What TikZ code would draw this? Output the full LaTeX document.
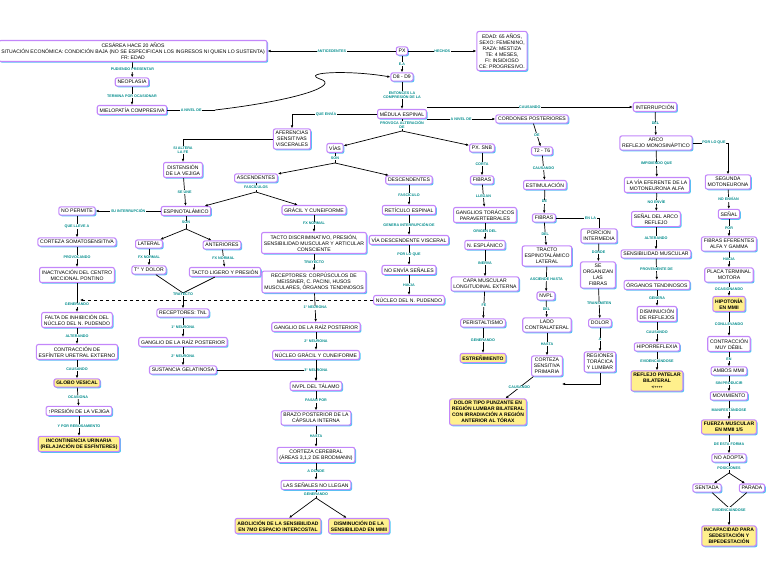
\documentclass[tikz,border=0pt]{standalone}
\usepackage{fontspec}
\setmainfont{Liberation Sans}
\usetikzlibrary{shadows,arrows.meta}
\definecolor{pur}{RGB}{195,135,250}
\definecolor{tl}{RGB}{0,140,140}
\definecolor{yl}{RGB}{255,240,140}
\tikzset{
 box/.style={draw=pur,line width=1.1pt,rounded corners=2pt,fill=white,align=center,
   font=\fontsize{5.1}{6}\selectfont,inner sep=2.3pt,
   drop shadow={shadow xshift=1.2pt,shadow yshift=-1.2pt,fill=cyan!70,opacity=1}},
 ybox/.style={box,fill=yl,font=\fontsize{5}{6}\selectfont\bfseries},
 lbl/.style={font=\fontsize{3.7}{4.3}\selectfont\bfseries,text=tl,fill=white,inner sep=0.6pt,align=center},
 arr/.style={-{Latex[length=3pt,width=2.6pt]},line width=0.7pt},
 ln/.style={line width=0.7pt}
}
\begin{document}
\begin{tikzpicture}[x=1pt,y=-1pt]
\useasboundingbox (0,0) rectangle (768,578);
% top
\node[box] (ant) at (133,51) {CESÁREA HACE 20 AÑOS\\SITUACIÓN ECONÓMICA: CONDICIÓN BAJA (NO SE ESPECIFICAN LOS INGRESOS NI QUIEN LO SUSTENTA)\\FR: EDAD};
\node[box] (px) at (402,51) {PX};
\node[box] (edad) at (502,51) {EDAD: 65 AÑOS,\\SEXO: FEMENINO,\\RAZA: MESTIZA\\TE: 4 MESES,\\FI: INSIDIOSO\\CE: PROGRESIVO.};
\node[box] (dd) at (402,77) {D8 - D9};
\node[box] (neo) at (132,82) {NEOPLASIA};
\node[box] (miel) at (132,110) {MIELOPATÍA COMPRESIVA};
\node[box] (med) at (402,114) {MÉDULA ESPINAL};
\node[box] (afe) at (292,139) {AFERENCIAS\\SENSITIVAS\\VISCERALES};
\node[box] (vias) at (335,148) {VÍAS};
\node[box] (snb) at (482,148) {PX. SNB};
\node[box] (cord) at (532,119) {CORDONES POSTERIORES};
\node[box] (int) at (655,107) {INTERRUPCIÓN};
\node[box] (arco) at (656,143) {ARCO\\REFLEJO MONOSINÁPTICO};
\node[box] (seg) at (728,182) {SEGUNDA\\MOTONEURONA};
\node[box] (t2) at (542,151) {T2 - T6};
\node[box] (est) at (545,185) {ESTIMULACIÓN};
\node[box] (fib2) at (544,218) {FIBRAS};
\node[box] (porc) at (599,236) {PORCION\\INTERMEDIA};
\node[box] (tra) at (547,256) {TRACTO\\ESPINOTALÁMICO\\LATERAL};
\node[box] (nvpl) at (546,296) {NVPL};
\node[box] (lado) at (547,325) {LADO\\CONTRALATERAL};
\node[box] (csen) at (547,366) {CORTEZA\\SENSITIVA\\PRIMARIA};
\node[box] (org) at (598,275) {SE\\ORGANIZAN\\LAS\\FIBRAS};
\node[box] (dol) at (600,323) {DOLOR};
\node[box] (reg) at (600,362) {REGIONES\\TORÁCICA\\Y LUMBAR};
\node[ybox] (dtipo) at (488,412) {DOLOR TIPO PUNZANTE EN\\REGIÓN LUMBAR BILATERAL\\CON IRRADIACIÓN A REGIÓN\\ANTERIOR AL TÓRAX};
\node[box] (vef) at (657,185) {LA VÍA EFERENTE DE LA\\MOTONEURONA ALFA};
\node[box] (sarc) at (656,219) {SEÑAL DEL ARCO\\REFLEJO};
\node[box] (smus) at (656,254) {SENSIBILIDAD MUSCULAR};
\node[box] (orgt) at (657,285) {ÓRGANOS TENDINOSOS};
\node[box] (dref) at (657,314) {DISMINUCIÓN\\DE REFLEJOS};
\node[box] (hipo) at (657,347) {HIPORREFLEXIA};
\node[ybox] (pat) at (657,381) {REFLEJO PATELAR\\BILATERAL\\{\fontsize{3.5}{4}\selectfont +/++++}};
\node[box] (sen2) at (729,214) {SEÑAL};
\node[box] (fef) at (729,244) {FIBRAS EFERENTES\\ALFA Y GAMMA};
\node[box] (placa) at (729,275) {PLACA TERMINAL\\MOTORA};
\node[ybox] (hton) at (729,304) {HIPOTONÍA\\EN MMII};
\node[box] (cdeb) at (729,344) {CONTRACCIÓN\\MUY DÉBIL};
\node[box] (amb) at (729,371) {AMBOS MMII};
\node[box] (mov) at (729,396) {MOVIMIENTO};
\node[ybox] (fza) at (729,427) {FUERZA MUSCULAR\\EN MMII 1/5};
\node[box] (noad) at (729,458) {NO ADOPTA};
\node[box] (sent) at (707,488) {SENTADA};
\node[box] (par) at (752,488) {PARADA};
\node[ybox] (inc) at (729,536) {INCAPACIDAD PARA\\SEDESTACIÓN Y\\BIPEDESTACIÓN};
% left
\node[box] (dist) at (183,170) {DISTENSIÓN\\DE LA VEJIGA};
\node[box] (asc) at (256,178) {ASCENDENTES};
\node[box] (desc) at (409,180) {DESCENDENTES};
\node[box] (espi) at (186,211) {ESPINOTALÁMICO};
\node[box] (nop) at (77,211) {NO PERMITE};
\node[box] (grac) at (314,210) {GRÁCIL Y CUNEIFORME};
\node[box] (ret) at (409,210) {RETÍCULO ESPINAL};
\node[box] (gang) at (485,215) {GANGLIOS TORÁCICOS\\PARAVERTEBRALES};
\node[box] (lat) at (149,244) {LATERAL};
\node[box] (antr) at (222,245) {ANTERIORES};
\node[box] (tdis) at (314,243) {TACTO DISCRIMINATIVO, PRESIÓN,\\SENSIBILIDAD MUSCULAR Y ARTICULAR\\CONSCIENTE};
\node[box] (vdes) at (409,240) {VÍA DESCENDENTE VISCERAL};
\node[box] (nesp) at (485,245) {N. ESPLÁNICO};
\node[box] (csom) at (77,242) {CORTEZA SOMATOSENSITIVA};
\node[box] (tyd) at (149,270) {T° Y DOLOR};
\node[box] (tlig) at (225,272) {TACTO LIGERO Y PRESIÓN};
\node[box] (inac) at (77,275) {INACTIVACIÓN DEL CENTRO\\MICCIONAL PONTINO};
\node[box] (rec) at (314,282) {RECEPTORES: CORPÚSCULOS DE\\MEISSNER, C. PACINI, HUSOS\\MUSCULARES, ÓRGANOS TENDINOSOS};
\node[box] (noenv) at (409,270) {NO ENVÍA SEÑALES};
\node[box] (capa) at (485,284) {CAPA MUSCULAR\\LONGITUDINAL EXTERNA};
\node[box] (npud) at (409,300) {NÚCLEO DEL N. PUDENDO};
\node[box] (rtnl) at (183,313) {RECEPTORES: TNL};
\node[box] (falta) at (77,320) {FALTA DE INHIBICIÓN DEL\\NÚCLEO DEL N. PUDENDO};
\node[box] (gr1) at (183,342) {GANGLIO DE LA RAÍZ POSTERIOR};
\node[box] (cesf) at (77,352) {CONTRACCIÓN DE\\ESFÍNTER URETRAL EXTERNO};
\node[box] (sgel) at (183,370) {SUSTANCIA GELATINOSA};
\node[ybox] (glob) at (77,383) {GLOBO VESICAL};
\node[box] (pres) at (79,411) {↑PRESIÓN DE LA VEJIGA};
\node[ybox] (incu) at (79,444) {INCONTINENCIA URINARIA\\(RELAJACIÓN DE ESFÍNTERES)};
\node[box] (gr2) at (316,327) {GANGLIO DE LA RAÍZ POSTERIOR};
\node[box] (ngc) at (316,355) {NÚCLEO GRÁCIL Y CUNEIFORME};
\node[box] (tal) at (316,386) {NVPL DEL TÁLAMO};
\node[box] (brazo) at (316,418) {BRAZO POSTERIOR DE LA\\CÁPSULA INTERNA};
\node[box] (ccer) at (316,455) {CORTEZA CEREBRAL\\(ÁREAS 3,1,2 DE BRODMANN)};
\node[box] (snl) at (316,485) {LAS SEÑALES NO LLEGAN};
\node[ybox] (abol) at (278,526) {ABOLICIÓN DE LA SENSIBILIDAD\\EN 7MO ESPACIO INTERCOSTAL};
\node[ybox] (dsen) at (359,526) {DISMINUCIÓN DE LA\\SENSIBILIDAD EN MMII};
\node[box] (peri) at (483,323) {PERISTALTISMO};
\node[ybox] (estr) at (483,358) {ESTREÑIMIENTO};
\node[box] (fib1) at (482,180) {FIBRAS};
% edges
\draw[arr] (px) -- node[lbl]{ANTICEDENTES} (ant);
\draw[arr] (px) -- node[lbl]{HECHOS} (edad.west|-px);
\draw[arr] (px) -- node[lbl]{E.A} (dd);
\draw[arr] (dd) -- node[lbl]{ENTONCES LA\\COMPRESIÓN DE LA} (med);
\draw[ln] (miel.east) -- node[lbl]{A NIVEL DE} (215,110);
\draw[arr] (215,110) .. controls (300,100) and (340,85) .. (320,79) .. controls (300,72) and (350,70) .. (dd.west);
\draw[arr] (ant) -- node[lbl]{PUDIENDO PRESENTAR} (neo);
\draw[arr] (neo) -- node[lbl]{TERMINA POR OCASIONAR} (miel);
\draw[arr] (med.west) -| node[lbl,pos=0.3]{QUE ENVÍA} (afe.north);
\draw[arr] (afe.west) -| node[lbl,pos=0.75]{SI ALTERA\\LA FE} (dist.north);
\coordinate (m1) at (402,131);
\draw[ln] (med) -- node[lbl]{PROVOCA ALTERACIÓN\\DE} (m1);
\draw[arr] (m1) -- (vias);
\draw[arr] (m1) -- (snb);
\draw[arr] (med.east|-0,107) -- node[lbl]{CAUSANDO} (int.west|-0,107);
\draw[arr] (med.east|-0,119) -- node[lbl]{A NIVEL DE} (cord.west);
\coordinate (v1) at (335,163);
\draw[ln] (vias) -- node[lbl]{SON} (v1);
\draw[arr] (v1) -- (asc); \draw[arr] (v1) -- (desc);
\coordinate (a1) at (256,192);
\draw[ln] (asc) -- node[lbl]{FASCÍCULOS} (a1);
\draw[arr] (a1) -- (espi); \draw[arr] (a1) -- (grac);
\draw[arr] (dist) -- node[lbl]{SE UNE} (espi);
\draw[arr] (espi) -- node[lbl]{SU INTERRUPCIÓN} (nop);
\coordinate (e1) at (186,229);
\draw[ln] (espi) -- node[lbl]{SON} (e1);
\draw[arr] (e1) -- (lat); \draw[arr] (e1) -- (antr);
\draw[arr] (lat) -- node[lbl]{FX NORMAL} (tyd);
\draw[arr] (antr) -- node[lbl]{FX NORMAL} (tlig);
\coordinate (t1) at (183,293);
\draw[ln] (tyd) -- (t1) -- (tlig);
\draw[arr] (t1) -- node[lbl,pos=0.1]{TRAYECTO} (rtnl);
\draw[arr] (rtnl) -- node[lbl]{1° NEURONA} (gr1);
\draw[arr] (gr1) -- node[lbl]{2° NEURONA} (sgel);
\draw[arr] (sgel.east) -| node[lbl,pos=0.5]{3° NEURONA} (tal.north);
\draw[arr] (nop) -- node[lbl]{QUE LLEVE A} (csom);
\draw[arr] (csom) -- node[lbl]{PROVOCANDO} (inac);
\draw[arr] (inac) -- node[lbl,pos=0.75]{GENERANDO} (falta);
\draw[arr,dashed] (npud.west) -- (80,300);
\draw[arr] (falta) -- node[lbl]{ALTERANDO} (cesf);
\draw[arr] (cesf) -- node[lbl]{CAUSANDO} (glob);
\draw[arr] (glob) -- node[lbl]{OCASIONA} (pres);
\draw[arr] (pres) -- node[lbl]{Y POR REBOSAMIENTO} (incu);
\draw[arr] (grac) -- node[lbl]{FX NORMAL} (tdis);
\draw[arr] (tdis) -- node[lbl]{TRAYECTO} (rec);
\draw[arr] (rec) -- node[lbl]{1° NEURONA} (gr2);
\draw[arr] (gr2) -- node[lbl]{2° NEURONA} (ngc);
\draw[arr] (ngc) -- (tal);
\draw[arr] (tal) -- node[lbl]{PASAN POR} (brazo);
\draw[arr] (brazo) -- node[lbl]{HASTA} (ccer);
\draw[arr] (ccer) -- node[lbl]{A DONDE} (snl);
\coordinate (s1) at (316,498);
\draw[ln] (snl) -- node[lbl]{GENERANDO} (s1);
\draw[arr] (s1) -- (abol); \draw[arr] (s1) -- (dsen);
\draw[arr] (desc) -- node[lbl]{FASCÍCULO} (ret);
\draw[arr] (ret) -- node[lbl]{GENERA INTERRUPCIÓN DE} (vdes);
\draw[arr] (vdes) -- node[lbl]{POR LO QUE} (noenv);
\draw[arr] (noenv) -- node[lbl]{HACIA} (npud);
\draw[arr] (snb) -- node[lbl]{CORTA} (fib1);
\draw[arr] (fib1) -- node[lbl]{LLEGAN} (gang);
\draw[arr] (gang) -- node[lbl]{ORIGEN DEL} (nesp);
\draw[arr] (nesp) -- node[lbl]{INERVA} (capa);
\draw[arr] (capa) -- node[lbl]{FE} (peri);
\draw[arr] (peri) -- node[lbl]{GENERANDO} (estr);
\draw[arr] (cord) -- node[lbl]{DE} (t2);
\draw[arr] (t2) -- node[lbl]{CAUSANDO} (est);
\draw[arr] (est) -- node[lbl]{DE} (fib2);
\draw[ln] (fib2) -| node[lbl,pos=0.4]{EN LA} (porc);
\draw[arr] (fib2) -- node[lbl]{DEL} (tra);
\draw[arr] (tra) -- node[lbl]{ASCIENDE HASTA} (nvpl);
\draw[arr] (nvpl) -- node[lbl]{DEL} (lado);
\draw[arr] (lado) -- node[lbl]{HASTA} (csen);
\draw[arr] (csen) -- node[lbl]{CAUSANDO} (dtipo);
\draw[arr] (reg.south) |- (562,384);
\draw[arr] (porc) -- node[lbl]{DONDE} (org);
\draw[arr] (org) -- node[lbl]{TRANSMITEN} (dol);
\draw[arr] (dol) -- node[lbl]{A} (reg);
\draw[arr] (int) -- node[lbl]{DEL} (arco);
\draw[arr] (arco.east) -| node[lbl,pos=0.3]{POR LO QUE} (seg.north);
\draw[arr] (arco) -- node[lbl]{IMPIDIENDO QUE} (vef);
\draw[arr] (vef) -- node[lbl]{NO ENVÍE} (sarc);
\draw[arr] (sarc) -- node[lbl]{ALTERANDO} (smus);
\draw[arr] (smus) -- node[lbl]{PROVENIENTE DE} (orgt);
\draw[arr] (orgt) -- node[lbl]{GENERA} (dref);
\draw[arr] (dref) -- node[lbl]{CAUSANDO} (hipo);
\draw[arr] (hipo) -- node[lbl]{EVIDENCIÁNDOSE} (pat);
\draw[arr] (seg) -- node[lbl]{NO ENVÍAN} (sen2);
\draw[arr] (sen2) -- node[lbl]{POR} (fef);
\draw[arr] (fef) -- node[lbl]{HACIA} (placa);
\draw[arr] (placa) -- node[lbl]{OCASIONANDO} (hton);
\draw[arr] (hton) -- node[lbl]{CONLLEVANDO} (cdeb);
\draw[arr] (cdeb) -- node[lbl]{EN} (amb);
\draw[arr] (amb) -- node[lbl]{SIN PRODUCIR} (mov);
\draw[arr] (mov) -- node[lbl]{MANIFESTÁNDOSE} (fza);
\draw[arr] (fza) -- node[lbl]{DE ESTA FORMA} (noad);
\coordinate (n1) at (729,473);
\draw[ln] (noad) -- node[lbl]{POSICIONES} (n1);
\draw[arr] (n1) -- (sent); \draw[arr] (n1) -- (par);
\coordinate (n2) at (729,508);
\draw[ln] (sent) -- (n2) -- (par);
\draw[arr] (n2) -- node[lbl,pos=0.1]{EVIDENCIÁNDOSE} (inc);
\end{tikzpicture}
\end{document}
